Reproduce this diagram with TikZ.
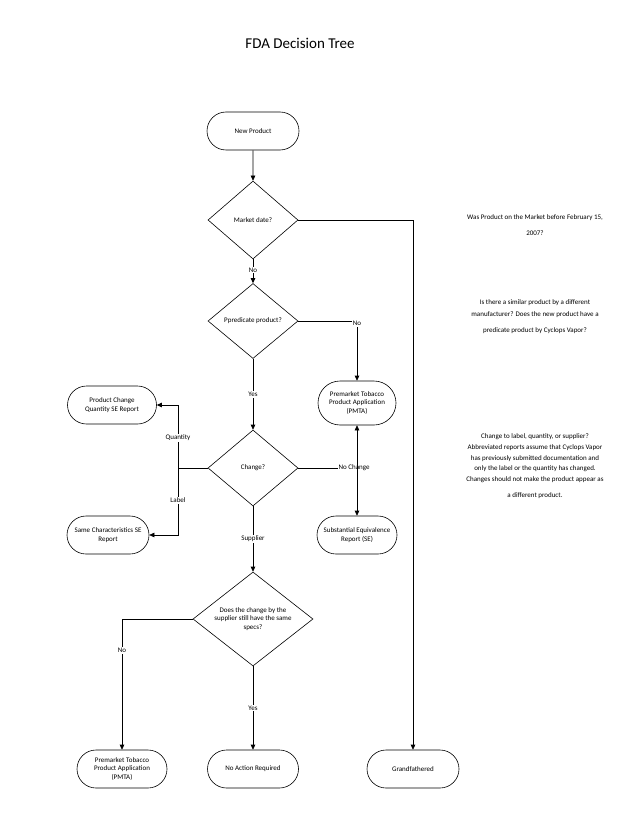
\documentclass[tikz,border=0pt]{standalone}
\usepackage{fontspec}
\setmainfont{Carlito}
\usetikzlibrary{shapes.geometric,shapes.misc,arrows.meta}
\begin{document}
\begin{tikzpicture}[x=1pt,y=-1pt,
  every node/.style={font=\fontsize{7}{8.5}\selectfont},
  term/.style={draw,rounded rectangle,align=center,inner sep=1pt,minimum height=38pt,line width=0.6pt},
  dec/.style={draw,diamond,align=center,inner sep=0pt,line width=0.6pt},
  ln/.style={line width=0.6pt},
  ar/.style={ln,-{Triangle[length=5pt,width=4.5pt]}},
  lab/.style={fill=white,inner sep=1pt},
  note/.style={align=center,font=\fontsize{7}{11.5}\selectfont}]
\useasboundingbox (0,0) rectangle (638,826);
\node (title) at (300,43) {\fontsize{15}{18}\selectfont FDA Decision Tree};
\node[term,minimum width=94pt] (np) at (253,131) {New Product};
\node[dec,minimum width=90pt,minimum height=78pt] (md) at (253,220) {Market date?};
\node[dec,minimum width=90pt,minimum height=75pt] (pp) at (253,321) {Ppredicate product?};
\node[term,minimum width=80pt,minimum height=44pt] (pm1) at (357,403) {Premarket Tobacco\\Product Application\\(PMTA)};
\node[term,minimum width=91pt] (pc) at (112,405) {Product Change\\Quantity SE Report};
\node[dec,minimum width=90pt,minimum height=76pt] (ch) at (253,468) {Change?};
\node[term,minimum width=84pt] (sc) at (108,535) {Same Characteristics SE\\Report};
\node[term,minimum width=82pt] (se) at (357,535) {Substantial Equivalence\\Report (SE)};
\node[dec,minimum width=120pt,minimum height=94pt] (dc) at (253,619) {};
\node[align=center] (dct) at (253,619) {Does the change by the\\supplier still have the same\\specs?};
\node[term,minimum width=92pt] (pm2) at (122,769) {Premarket Tobacco\\Product Application\\(PMTA)};
\node[term,minimum width=93pt] (na) at (253,769) {No Action Required};
\node[term,minimum width=94pt] (gf) at (413,769) {Grandfathered};
\coordinate (cl) at (178,468);
\coordinate (cr) at (357,468);
\draw[ar] (np) -- (md);
\draw[ar] (md.east) -| (gf.north);
\draw[ar] (md) -- node[lab,pos=0.45]{No} (pp);
\draw[ar] (pp.east) -| node[lab,pos=0.52]{No} (pm1.north);
\draw[ar] (pp) -- node[lab,pos=0.5]{Yes} (ch);
\draw[ln] (ch.west) -- (cl);
\draw[ar] (cl) |- node[lab,pos=0.24]{Quantity} (pc.east);
\draw[ar] (cl) |- node[lab,pos=0.24]{Label} (sc.east);
\draw[ln] (ch.east) -- node[lab,pos=0.95]{No Change} (cr);
\draw[ar] (cr) -- (pm1.south);
\draw[ar] (cr) -- (se.north);
\draw[ar] (ch) -- node[lab,pos=0.5]{Supplier} (dc);
\draw[ar] (dc.west) -| node[lab,pos=0.62]{No} (pm2.north);
\draw[ar] (dc) -- node[lab,pos=0.5]{Yes} (na);
\node[note] (n1) at (535,225) {Was Product on the Market before February 15,\\[5pt]2007?};
\node[note,font=\fontsize{7}{12}\selectfont] (n2) at (535,317) {Is there a similar product by a different\\manufacturer? Does the new product have a\\[4pt]predicate product by Cyclops Vapor?};
\node[note,font=\fontsize{7}{10.7}\selectfont] (n3) at (535,466) {Change to label, quantity, or supplier?\\Abbreviated reports assume that Cyclops Vapor\\has previously submitted documentation and\\only the label or the quantity has changed.\\Changes should not make the product appear as\\[5pt]a different product.};
\end{tikzpicture}
\end{document}
